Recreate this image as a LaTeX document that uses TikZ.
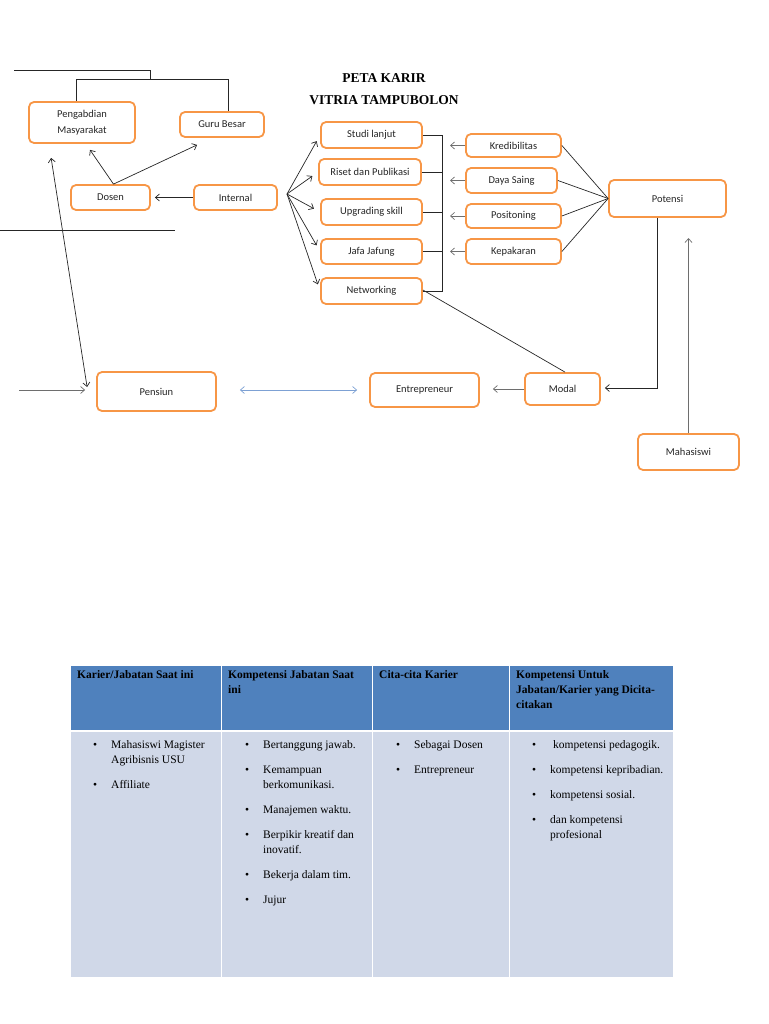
\documentclass[tikz,border=0pt]{standalone}
\usepackage{fontspec}
\setmainfont{Liberation Serif}
\newfontfamily\calibri{Carlito}
\usetikzlibrary{arrows.meta,calc}
\definecolor{boxorange}{HTML}{F79646}
\definecolor{textgray}{HTML}{262626}
\definecolor{arrowgray}{HTML}{6E6E6E}
\definecolor{arrowblue}{HTML}{7DA1D4}
\definecolor{hdrblue}{HTML}{4F81BD}
\definecolor{cellblue}{HTML}{D0D8E8}
\newcommand{\bl}{\textbullet}

\begin{document}
\begin{tikzpicture}[x=1pt, y=-1pt,
    every node/.style={font=\calibri\fontsize{10.5}{16}\selectfont, text=textgray},
    box/.style={rectangle, draw=boxorange, line width=1.8pt, rounded corners=5pt,
                fill=white, align=center, inner sep=0pt},
    title/.style={anchor=base, font=\rmfamily\bfseries\fontsize{13.5}{16}\selectfont, text=black},
    hdr/.style={anchor=base west, inner sep=0pt, text=black,
                font=\rmfamily\bfseries\fontsize{11.5}{15}\selectfont},
    cell/.style={anchor=base west, inner sep=0pt, text=black,
                 font=\rmfamily\fontsize{11.5}{15}\selectfont},
    grid/.style={draw=white, line width=1.5pt},
    line/.style={draw=black!85, line width=0.7pt},
    arr/.style={-{Straight Barb[length=4pt,width=7pt]}, line, shorten >=0pt},
    garr/.style={arr, draw=arrowgray},
    darr/.style={{Straight Barb[length=4pt,width=7pt]}-{Straight Barb[length=4pt,width=7pt]}, line},
    barr/.style={darr, draw=arrowblue},
]
\useasboundingbox (0,0) rectangle (768,1024);

% Title
\node[title] (t1) at (384,83)  {PETA KARIR};
\node[title] (t2) at (384,105) {VITRIA TAMPUBOLON};

% Nodes, left part
\node[box, minimum width=106pt, minimum height=41pt] (peng)     at (82,122.5)   {Pengabdian\\Masyarakat};
\node[box, minimum width=84pt,  minimum height=25pt] (guru)     at (222,124.5)  {Guru Besar};
\node[box, minimum width=79pt,  minimum height=25pt] (dosen)    at (110.5,197.5) {Dosen};
\node[box, minimum width=83pt,  minimum height=25pt] (internal) at (235.5,197.5) {Internal};
\node[box, minimum width=119pt, minimum height=39pt] (pens)     at (156.5,391.5) {Pensiun};

% Nodes, middle column
\node[box, minimum width=101pt, minimum height=26pt] (studi) at (371.5,135)   {Studi lanjut};
\node[box, minimum width=102pt, minimum height=26pt] (riset) at (370,172)     {Riset dan Publikasi};
\node[box, minimum width=101pt, minimum height=26pt] (upgr)  at (371.5,212)   {Upgrading skill};
\node[box, minimum width=101pt, minimum height=25pt] (jafa)  at (371.5,251.5) {Jafa Jafung};
\node[box, minimum width=101pt, minimum height=26pt] (netw)  at (371.5,291)   {Networking};

% Nodes, right part
\node[box, minimum width=95pt,  minimum height=23pt] (kred) at (513.5,145.5) {Kredibilitas};
\node[box, minimum width=91pt,  minimum height=25pt] (daya) at (511.5,180.5) {Daya Saing};
\node[box, minimum width=95pt,  minimum height=24pt] (posi) at (513.5,216)   {Positoning};
\node[box, minimum width=95pt,  minimum height=25pt] (kepa) at (513.5,251.5) {Kepakaran};
\node[box, minimum width=117pt, minimum height=37pt] (pote) at (667.5,198.5) {Potensi};
\node[box, minimum width=75pt,  minimum height=32pt] (modal) at (562.5,389)  {Modal};
\node[box, minimum width=109pt, minimum height=34pt] (entre) at (424.5,390)  {Entrepreneur};
\node[box, minimum width=101pt, minimum height=36pt] (maha) at (688.5,452)   {Mahasiswi};

% Free ends
\coordinate (tl)  at (14,70);
\coordinate (tm)  at (150,70);
\coordinate (tj)  at (150,79);
\coordinate (pj)  at (76,79);
\coordinate (gj)  at (228,79);
\coordinate (sl)  at (0,230);
\coordinate (sr)  at (175,230);
\coordinate (pin) at (19,390);
\coordinate (fan) at (287,194);
\coordinate (brx) at (442,0);
\coordinate (brt) at (450,0);
\coordinate (mtip) at (688.5,238);

% Lines
\draw[line] (tl) -- (tm) -- (tj);
\draw[line] (pj |- peng.north) -- (pj) -- (gj) -- (gj |- guru.north);
\draw[line] (sl) -- (sr);

% Arrows, left part
\draw[arr] (internal.west) -- ($(dosen.east)+(4,0)$);
\draw[arr] ($(dosen.north)+(3,0)$) -- ($(peng.south)+(8,6)$);
\draw[arr] ($(dosen.north)+(3,0)$) -- ($(guru.south west)+(18,7)$);
\draw[darr] ($(peng.south west)+(23,14)$) -- ($(pens.west)+(-9,-4.5)$);
\draw[garr] (pin) -- ($(pens.west)+(-11,-1.5)$);
\draw[barr] ($(pens.east)+(23,-1.5)$) -- ($(entre.west)+(-12,0)$);

% Fan from Internal
\foreach \n in {studi,riset,upgr,jafa,netw}
  \draw[arr, shorten >=7pt] (fan) -- (\n.west);

% Bracket
\draw[line] (studi.east) -- (studi.east -| brx) -- (netw.east -| brx) -- (netw.east);
\foreach \n in {riset,upgr,jafa}
  \draw[line] (\n.east) -- (\n.east -| brx);

% Right part
\foreach \n in {kred,daya,posi,kepa} {
  \draw[garr] (\n.west) -- (\n.west -| brt);
  \draw[line] (\n.east) -- (pote.west);
}
\draw[arr] ($(pote.south)+(-10,0)$) |- ($(modal.east)+(4,-1)$);
\draw[garr] (maha.north) -- (mtip);
\draw[line] ($(netw.east)+(0,-1)$) -- ($(modal.north)+(2.5,0)$);
\draw[garr] (modal.west) -- ($(entre.east)+(13,-1)$);

% Table
\foreach \xa/\xb in {70/221.5, 221.5/372.5, 372.5/509.5, 509.5/674} {
  \filldraw[grid, fill=hdrblue]  (\xa,665) rectangle (\xb,731);
  \filldraw[grid, fill=cellblue] (\xa,731) rectangle (\xb,978);
}

\node[hdr] (h1) at (77,678)  {Karier/Jabatan Saat ini};
\node[hdr] (h2) at (228,678) {\begin{tabular}[t]{@{}l@{}}Kompetensi Jabatan Saat\\ini\end{tabular}};
\node[hdr] (h3) at (379,678) {Cita-cita Karier};
\node[hdr] (h4) at (516,678) {\begin{tabular}[t]{@{}l@{}}Kompetensi Untuk\\Jabatan/Karier yang Dicita-\\citakan\end{tabular}};

\node[cell] (c1) at (93,748) {\begin{tabular}[t]{@{}p{18pt}@{}l@{}}
  \bl & Mahasiswi Magister\\
      & Agribisnis USU\\[10pt]
  \bl & Affiliate
\end{tabular}};
\node[cell] (c2) at (245,748) {\begin{tabular}[t]{@{}p{18pt}@{}l@{}}
  \bl & Bertanggung jawab.\\[10pt]
  \bl & Kemampuan\\
      & berkomunikasi.\\[10pt]
  \bl & Manajemen waktu.\\[10pt]
  \bl & Berpikir kreatif dan\\
      & inovatif.\\[10pt]
  \bl & Bekerja dalam tim.\\[10pt]
  \bl & Jujur
\end{tabular}};
\node[cell] (c3) at (396,748) {\begin{tabular}[t]{@{}p{18pt}@{}l@{}}
  \bl & Sebagai Dosen\\[10pt]
  \bl & Entrepreneur
\end{tabular}};
\node[cell] (c4) at (532,748) {\begin{tabular}[t]{@{}p{18pt}@{}l@{}}
  \bl & \hspace{3pt}kompetensi pedagogik.\\[10pt]
  \bl & kompetensi kepribadian.\\[10pt]
  \bl & kompetensi sosial.\\[10pt]
  \bl & dan kompetensi\\
      & profesional
\end{tabular}};

\end{tikzpicture}
\end{document}
